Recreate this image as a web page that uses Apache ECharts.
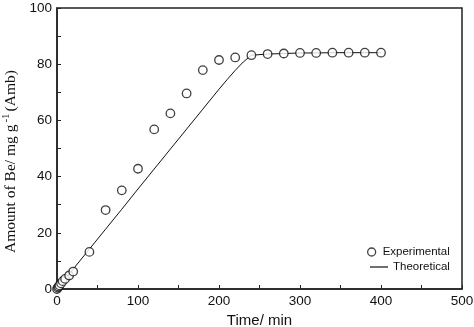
<!DOCTYPE html>
<html><head><meta charset="utf-8">
<script src="https://cdn.jsdelivr.net/npm/echarts@6/dist/echarts.min.js"></script>
<style>html,body{margin:0;padding:0;background:#fff}#c{width:474px;height:327px}</style>
</head><body><div id="c"></div>
<script>
// Experimental data
const expTime = [0, 1, 2, 3, 5, 7, 10, 15, 20, 40, 60, 80, 100, 120, 140, 160, 180, 200, 220, 240, 260, 280, 300, 320, 340, 360, 380, 400];
const expAmount = [0, 0.5, 0.9, 1.3, 2.0, 2.8, 3.6, 4.8, 6.2, 13.2, 28.1, 35.1, 42.8, 56.8, 62.5, 69.6, 77.9, 81.5, 82.4, 83.2, 83.6, 83.8, 84.0, 84.0, 84.1, 84.1, 84.1, 84.1];
// Theoretical curve
const theoTime = [0, 20, 40, 60, 80, 100, 120, 140, 160, 180, 200, 210, 220, 230, 240, 260, 280, 300, 320, 340, 360, 380, 400];
const theoAmount = [0, 7.1, 14.2, 21.3, 28.4, 35.6, 42.7, 49.8, 56.9, 64.0, 71.1, 74.5, 77.8, 80.8, 83.2, 83.6, 83.8, 84.0, 84.0, 84.1, 84.1, 84.1, 84.1];
const xTicks = [0, 100, 200, 300, 400, 500];
const yTicks = [0, 20, 40, 60, 80, 100];

const chart = echarts.init(document.getElementById('c'));
const axisCol = '#222';
const legendText = {fontFamily: 'Liberation Sans', fontSize: 11.5, color: '#111'};
chart.setOption({
  animation: false,
  backgroundColor: '#fff',
  grid: {left: 57, right: 12, top: 8, bottom: 38, show: true, borderColor: axisCol, borderWidth: 1.5,
    backgroundColor: 'transparent', outerBoundsMode: 'none', containLabel: false},
  legend: [
    {left: 362, top: 241, itemGap: 6, itemWidth: 12, itemHeight: 8, textStyle: legendText,
      data: [{name: 'Experimental', icon: 'circle', itemStyle: {color: '#fff', borderColor: '#111', borderWidth: 1.3}}]},
    {left: 365, top: 256, itemGap: 6, itemWidth: 18, itemHeight: 1.2, textStyle: legendText,
      data: [{name: 'Theoretical', icon: 'rect'}]}
  ],
  xAxis: {
    type: 'value', min: 0, max: 500, interval: 50,
    name: 'Time/ min', nameLocation: 'middle', nameGap: 24,
    nameTextStyle: {fontFamily: 'Liberation Sans', fontSize: 15, color: '#111'},
    axisLine: {lineStyle: {color: axisCol, width: 1.5}},
    axisTick: {inside: true, length: 4, lineStyle: {color: axisCol}},
    axisLabel: {fontFamily: 'Liberation Sans', fontSize: 13.5, color: '#111', margin: 5,
      formatter: v => xTicks.includes(v) ? String(v) : ''},
    splitLine: {show: false}
  },
  yAxis: {
    type: 'value', min: 0, max: 100, interval: 10,
    name: 'Amount of Be/ mg g{sup|-1}(Amb)', nameLocation: 'middle', nameGap: 31,
    nameTextStyle: {fontFamily: 'Liberation Serif', fontSize: 15.5, color: '#111', padding: [0, 26, 0, 0],
      rich: {sup: {fontFamily: 'Liberation Serif', fontSize: 11, color: '#111', verticalAlign: 'top', padding: [0, 2, 8, 2]}}},
    axisLine: {lineStyle: {color: axisCol, width: 1.5}},
    axisTick: {inside: true, length: 4, lineStyle: {color: axisCol}},
    axisLabel: {fontFamily: 'Liberation Sans', fontSize: 13.5, color: '#111', margin: 5,
      formatter: v => yTicks.includes(v) ? String(v) : ''},
    splitLine: {show: false}
  },
  series: [
    {
      name: 'Experimental', type: 'scatter', symbol: 'circle', symbolSize: 8.5,
      itemStyle: {color: '#fff', borderColor: '#111', borderWidth: 1.3},
      data: expTime.map((t, i) => [t, expAmount[i]]), z: 3
    },
    {
      name: 'Theoretical', type: 'line', symbol: 'none', smooth: false,
      lineStyle: {color: '#111', width: 1},
      itemStyle: {color: '#111'},
      data: theoTime.map((t, i) => [t, theoAmount[i]]), z: 2
    }
  ]
});
</script></body></html>
